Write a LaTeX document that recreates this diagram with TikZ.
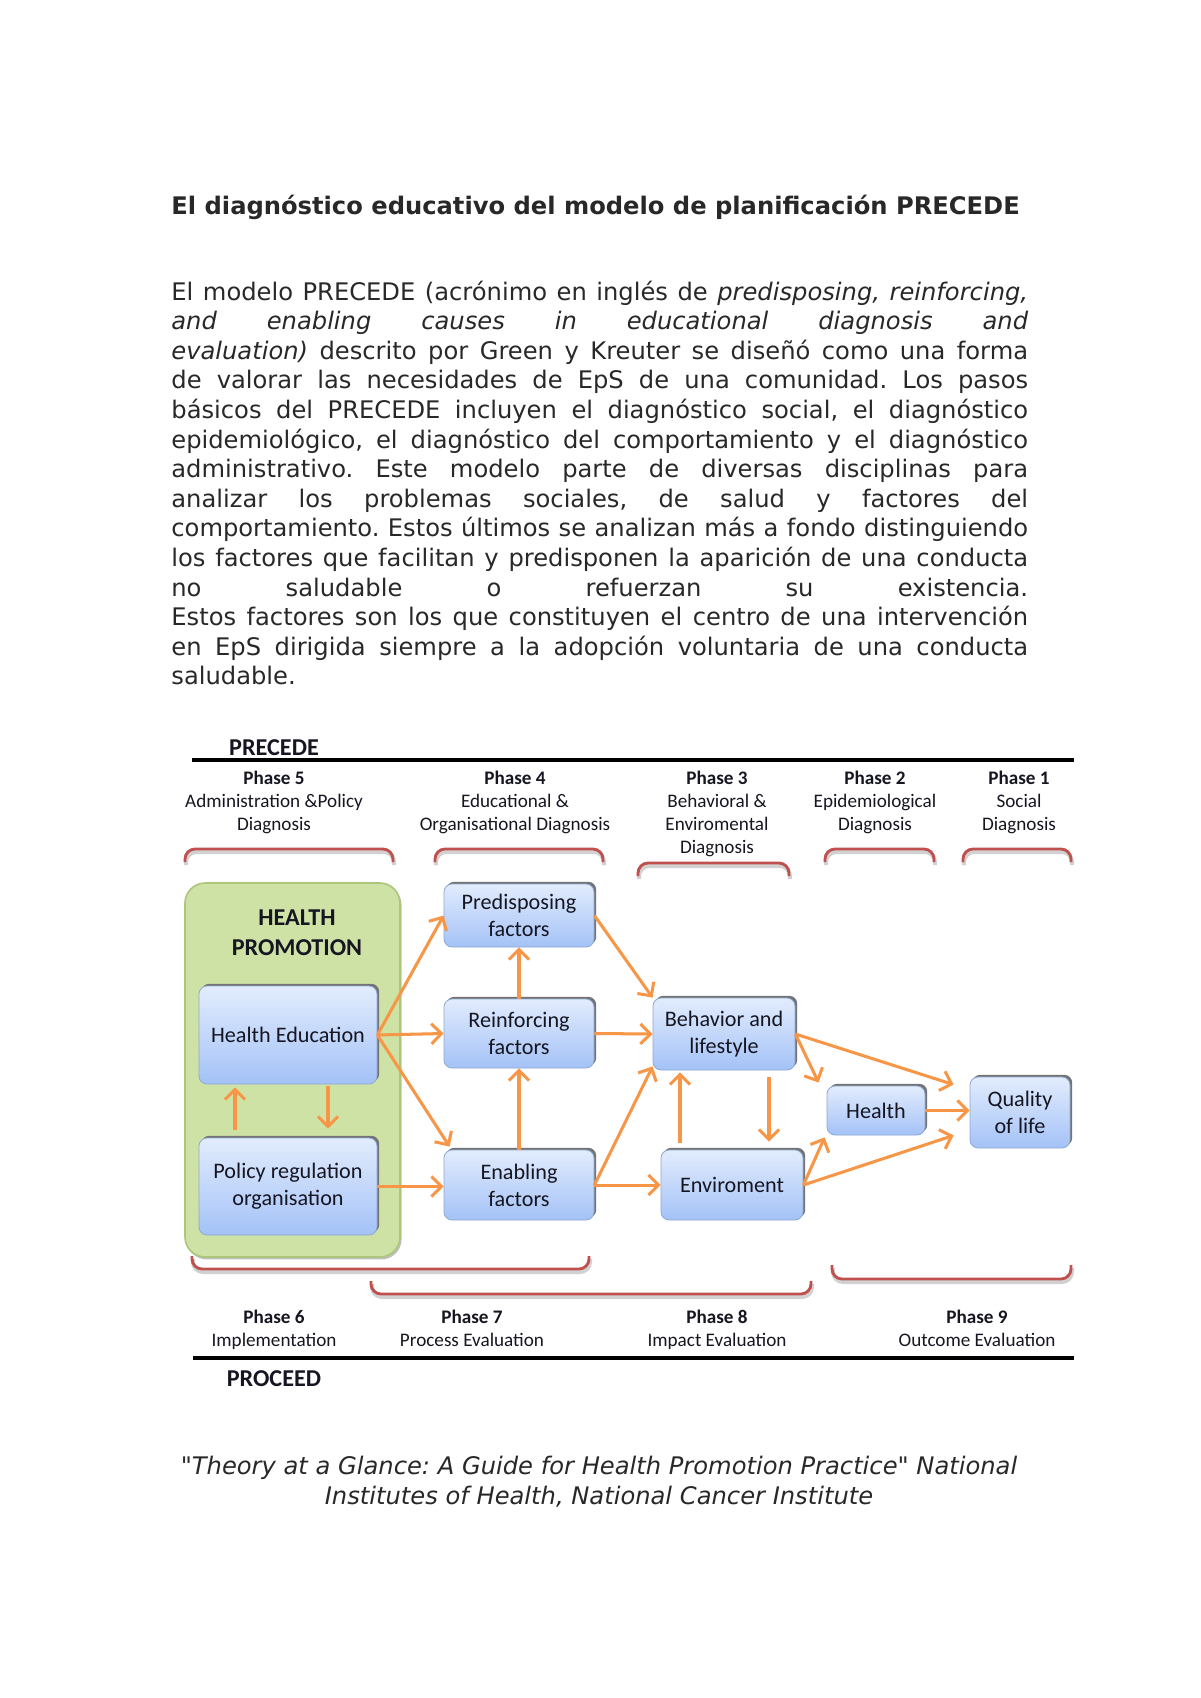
\documentclass[tikz,border=0pt]{standalone}
\usepackage{fontspec}
\setmainfont{DejaVu Sans}
\newfontfamily\calfont{Carlito}
\usetikzlibrary{arrows.meta,shadows,calc}
\definecolor{org}{RGB}{247,150,70}
\definecolor{brkc}{RGB}{192,80,77}
\definecolor{bxa}{RGB}{226,236,253}
\definecolor{bxb}{RGB}{164,194,247}
\definecolor{bxd}{RGB}{140,168,215}
\definecolor{grf}{RGB}{207,226,166}
\definecolor{grd}{RGB}{172,198,124}
\definecolor{txt}{RGB}{22,22,34}
\definecolor{bodyc}{RGB}{40,40,40}
\newcommand\jl[1]{\makebox[425pt][s]{#1}}
\begin{document}
\frenchspacing
\begin{tikzpicture}[x=0.4961pt,y=-0.4961pt,
  body/.style={font=\frenchspacing\fontsize{12}{14.67}\selectfont, text=bodyc, inner sep=0pt, anchor=base west},
  sz/.style 2 args={minimum width=#1*0.4961pt, minimum height=#2*0.4961pt},
  box/.style={rounded corners=4pt, draw=bxd, line width=0.4pt, top color=bxa, bottom color=bxb,
    align=center, font=\calfont\fontsize{11}{13.4}\selectfont, text=txt, inner sep=0pt,
    general shadow={shadow xshift=1.1pt, shadow yshift=1.1pt, fill=black!55}},
  green/.style={rounded corners=10pt, draw=grd, line width=0.8pt, fill=grf,
    general shadow={shadow xshift=0.8pt, shadow yshift=-1.2pt, fill=black!25}},
  ph/.style={font=\calfont\fontsize{9.5}{11.4}\selectfont, align=center, inner sep=0pt, anchor=north, text=txt},
  big/.style={font=\calfont\bfseries\fontsize{12}{14.9}\selectfont, align=center, inner sep=0pt, text=txt},
  arr/.style={draw=org, line width=1.5pt, -{Straight Barb[length=5pt,width=10pt]}},
  brk/.style={draw=brkc, line width=1.4pt, rounded corners=5pt},
  brks/.style={draw=black!18, line width=2pt, rounded corners=5pt},
  rule/.style={draw=black, line width=1.6pt}
]
\fill[white] (0,0) rectangle (1200,1698);

% ---- text ----
\node[body] (title) at (171,214) {\bfseries El diagnóstico educativo del modelo de planificación PRECEDE};
\node[body] (l1) at (171,300.0) {\jl{El modelo PRECEDE (acrónimo en inglés de \textit{predisposing, reinforcing,}}};
\node[body] (l2) at (171,329.6) {\jl{\textit{and enabling causes in educational diagnosis and}}};
\node[body] (l3) at (171,359.2) {\jl{\textit{evaluation)} descrito por Green y Kreuter se diseñó como una forma}};
\node[body] (l4) at (171,388.8) {\jl{de valorar las necesidades de EpS de una comunidad. Los pasos}};
\node[body] (l5) at (171,418.4) {\jl{básicos del PRECEDE incluyen el diagnóstico social, el diagnóstico}};
\node[body] (l6) at (171,448.0) {\jl{epidemiológico, el diagnóstico del comportamiento y el diagnóstico}};
\node[body] (l7) at (171,477.6) {\jl{administrativo. Este modelo parte de diversas disciplinas para}};
\node[body] (l8) at (171,507.2) {\jl{analizar los problemas sociales, de salud y factores del}};
\node[body] (l9) at (171,536.8) {\jl{comportamiento. Estos últimos se analizan más a fondo distinguiendo}};
\node[body] (l10) at (171,566.4) {\jl{los factores que facilitan y predisponen la aparición de una conducta}};
\node[body] (l11) at (171,596.0) {\jl{no saludable o refuerzan su existencia.}};
\node[body] (l12) at (171,625.6) {\jl{Estos factores son los que constituyen el centro de una intervención}};
\node[body] (l13) at (171,655.2) {\jl{en EpS dirigida siempre a la adopción voluntaria de una conducta}};
\node[body] (l14) at (171,684.8) {saludable.};

\node[body, anchor=base] (cit1) at (599,1474) {\itshape \textquotedbl Theory at a Glance: A Guide for Health Promotion Practice\textquotedbl{} National};
\node[body, anchor=base] (cit2) at (599,1504) {\itshape Institutes of Health, National Cancer Institute};

% ---- header / footer ----
\node[big] (precede) at (274,748) {PRECEDE};
\draw[rule] (192,760) -- (1074,760);
\node[ph] (p5) at (274,771) {\textbf{Phase 5}\\Administration \&Policy\\Diagnosis};
\node[ph] (p4) at (515,771) {\textbf{Phase 4}\\Educational \&\\Organisational Diagnosis};
\node[ph] (p3) at (717,771) {\textbf{Phase 3}\\Behavioral \&\\Enviromental\\Diagnosis};
\node[ph] (p2) at (875,771) {\textbf{Phase 2}\\Epidemiological\\Diagnosis};
\node[ph] (p1) at (1019,771) {\textbf{Phase 1}\\Social\\Diagnosis};

% top brackets
\foreach \a/\b/\t/\e in {185/393/849/862, 435/603/849/862, 638/789/863/876, 825/934/849/862, 963/1071/849/862}{
  \draw[brks] (\a+1,\e+3) -- (\a+1,\t+3) -- (\b+1,\t+3) -- (\b+1,\e+3);
  \draw[brk] (\a,\e) -- (\a,\t) -- (\b,\t) -- (\b,\e);
}
% bottom brackets
\foreach \a/\b/\t/\e in {192/589/1269/1256, 371/811/1294/1281, 832/1071/1279/1265}{
  \draw[brks] (\a+1,\e+3) -- (\a+1,\t+3) -- (\b+1,\t+3) -- (\b+1,\e+3);
  \draw[brk] (\a,\e) -- (\a,\t) -- (\b,\t) -- (\b,\e);
}

\node[ph] (p6) at (274,1310) {\textbf{Phase 6}\\Implementation};
\node[ph] (p7) at (472,1310) {\textbf{Phase 7}\\Process Evaluation};
\node[ph] (p8) at (717,1310) {\textbf{Phase 8}\\Impact Evaluation};
\node[ph] (p9) at (977,1310) {\textbf{Phase 9}\\Outcome Evaluation};
\draw[rule] (193,1358) -- (1074,1358);
\node[big] (proceed) at (274,1379) {PROCEED};

% ---- diagram ----
\node[green, sz={215}{374}] (hp) at (292.5,1070) {};
\node[big] (hptxt) at (297,933) {HEALTH\\PROMOTION};
\node[box, sz={178}{98}] (he) at (288,1035) {Health Education};
\node[box, sz={178}{97}] (pol) at (288,1186.5) {Policy regulation\\organisation};
\node[box, sz={150}{63}] (pred) at (519,915.5) {Predisposing\\factors};
\node[box, sz={150}{69}] (reinf) at (519,1033.5) {Reinforcing\\factors};
\node[box, sz={150}{70}] (enab) at (519,1185) {Enabling\\factors};
\node[box, sz={142}{72}] (beh) at (724,1034) {Behavior and\\lifestyle};
\node[box, sz={142}{70}] (env) at (732,1185) {Enviroment};
\node[box, sz={98}{49}] (health) at (876,1110.5) {Health};
\node[box, sz={100}{71}] (qol) at (1020,1112.5) {Quality\\of life};

\draw[arr] ($(pol.north)+(-53,-8)$) -- ($(he.south)+(-53,3)$);
\draw[arr] ($(he.south)+(40,2)$) -- ($(pol.north)+(40,-9)$);
\draw[arr] (he.east) -- (pred.west);
\draw[arr] (he.east) -- (reinf.west);
\draw[arr] (he.east) -- ($(enab.north west)+(6,-3)$);
\draw[arr] (pol.east) -- (pol.east -| enab.west);
\draw[arr] (reinf.north) -- (pred.south);
\draw[arr] (enab.north) -- (reinf.south);
\draw[arr] (pred.east) -- (beh.north west);
\draw[arr] (reinf.east) -- (beh.west);
\draw[arr] (enab.east) -- ($(beh.south west)+(0,-4)$);
\draw[arr] (enab.east) -- (enab.east -| env.west);
\draw[arr] ($(env.north)+(-52,-7)$) -- ($(beh.south)+(-44,2)$);
\draw[arr] ($(beh.south)+(45,7)$) -- ($(env.north)+(37,-8)$);
\draw[arr] (beh.east) -- ($(health.north west)+(-8,-3)$);
\draw[arr] (beh.east) -- ($(qol.north west)+(-16,8)$);
\draw[arr] (health.east) -- (health.east -| qol.west);
\draw[arr] (env.east) -- ($(health.south west)+(-2,2)$);
\draw[arr] (env.east) -- ($(qol.south west)+(-16,-13)$);
\end{tikzpicture}
\end{document}
